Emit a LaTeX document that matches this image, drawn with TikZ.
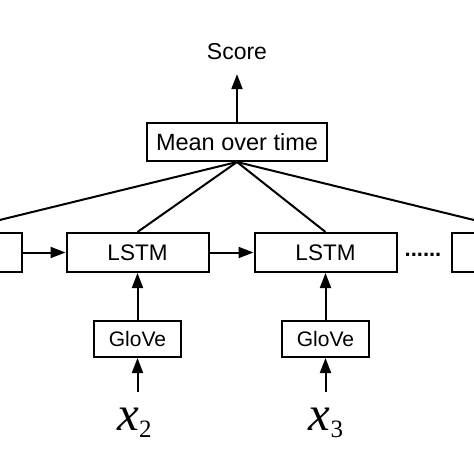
\documentclass[tikz,border=0pt]{standalone}
\usepackage{fontspec}
\setmainfont{Liberation Sans}
\newfontfamily\varfont{Liberation Serif}
\usetikzlibrary{arrows.meta,positioning}
\newcommand{\invar}[1]{{\varfont\fontsize{49}{50}\selectfont\itshape x\raisebox{-7pt}{\fontsize{25}{26}\selectfont\upshape #1}}}

\begin{document}
\begin{tikzpicture}
[x = 1pt, y = -1pt, line width = 2pt, >={Triangle[length=15pt,width=11pt]},
cell/.style = {draw, inner sep = 0pt, minimum width = 142pt, minimum height = 39pt, font = \fontsize{22.5}{27}\selectfont},
embed/.style = {draw, inner sep = 0pt, minimum width = 87pt, minimum height = 36pt, font = \fontsize{21}{25}\selectfont}]
\useasboundingbox (0,0) rectangle (474,474);
\node (score) at (237,52)[inner sep = 0pt, font = \fontsize{23}{28}\selectfont] {Score};
\node (mean) at (237,142)[draw, inner sep = 0pt, minimum width = 180pt, minimum height = 38pt, font = \fontsize{23.5}{28}\selectfont] {Mean over time};
\node (lstm0) at (-49.5,252.5)[cell] {};
\node (lstm1) at (137.5,252.5)[cell] {LSTM};
\node (lstm2) at (325.5,252.5)[cell] {LSTM};
\node (lstm3) at (523,252.5)[cell] {};
\node (dots) at (423,256)[anchor = base, font = \bfseries\fontsize{22}{26}\selectfont] {......};
\node (glove1) at (137.5,339)[embed] {GloVe};
\node (glove2) at (325.5,339)[embed] {GloVe};
\node (x2) at (134.5,430)[anchor = base, inner sep = 0pt] {\invar{2}};
\node (x3) at (326,430)[anchor = base, inner sep = 0pt] {\invar{3}};
\draw [->, shorten >= 13pt] (mean) -- (score);
\draw (mean.south) -- (lstm0.north);
\draw (mean.south) -- (lstm1.north);
\draw (mean.south) -- (lstm2.north);
\draw (mean.south) -- (lstm3.north);
\draw [->] (lstm0) -- (lstm1);
\draw [->] (lstm1) -- (lstm2);
\draw [->] (glove1) -- (lstm1);
\draw [->] (glove2) -- (lstm2);
\draw [->, shorten <= 15pt] (glove1.south |- x2.north) -- (glove1.south);
\draw [->, shorten <= 15pt] (glove2.south |- x3.north) -- (glove2.south);
\end{tikzpicture}
\end{document}
